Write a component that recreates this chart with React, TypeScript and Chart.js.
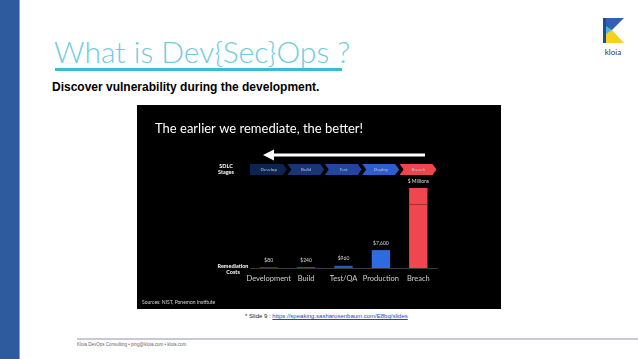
import React, { useEffect, useRef } from "react";
import { Chart, registerables } from "chart.js";

Chart.register(...registerables);

const categories = ["Development", "Build", "Test/QA", "Production", "Breach"];
const stages = ["Develop", "Build", "Test", "Deploy", "Breach"];
const costValues = [80, 240, 960, 7600, 34000];
const costLabels = ["$80", "$240", "$960", "$7,600", "$ Millions"];
const barColors = ["#1d3a7e", "#2549a6", "#2b57c4", "#2f6be0", "#f0464f"];
const stageColors = ["#0e2450", "#1a3576", "#2245a0", "#2c5ecf", "#ef454d"];

const overlayPlugin = {
  id: "overlay",
  beforeDatasetsDraw(chart: any) {
    const { ctx } = chart;
    const x = chart.scales.x;
    ctx.save();
    // title
    ctx.fillStyle = "#ffffff";
    ctx.font = "13px Lato";
    ctx.textBaseline = "middle";
    ctx.textAlign = "left";
    ctx.fillText("The earlier we remediate, the better!", 18, 24);
    // arrow
    ctx.fillStyle = "#ffffff";
    ctx.fillRect(134, 48.5, 154, 3);
    ctx.beginPath();
    ctx.moveTo(126, 50);
    ctx.lineTo(137, 44.5);
    ctx.lineTo(137, 55.5);
    ctx.closePath();
    ctx.fill();
    // left labels
    ctx.font = "bold 5.5px Lato";
    ctx.textAlign = "center";
    ctx.fillText("SDLC", 89, 61.5);
    ctx.fillText("Stages", 89, 67.5);
    ctx.fillText("Remediation", 96, 161);
    ctx.fillText("Costs", 96, 167);
    // chevrons
    const n = categories.length;
    const w = (x.right - x.left) / n;
    const top = 59, bot = 70, mid = 64.5, tip = 4;
    for (let i = 0; i < n; i++) {
      const c = x.getPixelForValue(i);
      const l = c - w / 2;
      const r = c + w / 2 - 0.5;
      ctx.fillStyle = stageColors[i];
      ctx.beginPath();
      ctx.moveTo(l, top);
      ctx.lineTo(r - tip, top);
      ctx.lineTo(r, mid);
      ctx.lineTo(r - tip, bot);
      ctx.lineTo(l, bot);
      if (i > 0) ctx.lineTo(l + tip, mid);
      ctx.closePath();
      ctx.fill();
      ctx.fillStyle = "#b8c4e0";
      ctx.font = "4.5px Lato";
      ctx.fillText(stages[i], c, mid);
    }
    // sources
    ctx.textAlign = "left";
    ctx.fillStyle = "#d8d8d8";
    ctx.font = "5px Lato";
    ctx.fillText("Sources: NIST, Ponemon Institute", 5, 197);
    ctx.restore();
  },
  afterDatasetsDraw(chart: any) {
    const { ctx } = chart;
    const meta = chart.getDatasetMeta(0);
    const y = chart.scales.y;
    ctx.save();
    ctx.fillStyle = "#dddddd";
    ctx.font = "5px Lato";
    ctx.textAlign = "center";
    ctx.textBaseline = "middle";
    meta.data.forEach((bar: any, i: number) => {
      ctx.fillText(costLabels[i], bar.x, bar.y - 7);
    });
    // break line on the breach bar
    const b = meta.data[4];
    const by = y.getPixelForValue(27000);
    ctx.strokeStyle = "#a82f36";
    ctx.lineWidth = 1;
    ctx.beginPath();
    ctx.moveTo(b.x - b.width / 2, by);
    ctx.lineTo(b.x + b.width / 2, by);
    ctx.stroke();
    ctx.restore();
  },
};

function SlideChart() {
  const ref = useRef<HTMLCanvasElement>(null);
  useEffect(() => {
    const chart = new Chart(ref.current!, {
      type: "bar",
      data: {
        labels: categories,
        datasets: [
          {
            data: costValues,
            backgroundColor: barColors,
            barPercentage: 0.49,
            categoryPercentage: 1,
            minBarLength: 1,
          },
        ],
      },
      options: {
        animation: false,
        responsive: false,
        maintainAspectRatio: false,
        layout: { padding: { left: 113, right: 64, top: 83, bottom: 20 } },
        plugins: { legend: { display: false }, tooltip: { enabled: false } },
        scales: {
          x: {
            grid: { display: false, drawTicks: false },
            border: { display: true, color: "#3a3a3a" },
            ticks: {
              color: "#cfcfcf",
              font: { family: "Lato", size: 7.5 },
              padding: 6,
              maxRotation: 0,
              minRotation: 0,
              autoSkip: false,
            },
          },
          y: { display: false, min: 0, max: 34000 },
        },
      },
      plugins: [overlayPlugin],
    });
    return () => chart.destroy();
  }, []);
  return (
    <canvas
      ref={ref}
      width={364}
      height={204}
      style={{ position: "absolute", left: 137, top: 105, width: 364, height: 204, background: "#000" }}
    />
  );
}

export default function App() {
  useEffect(() => {
    document.body.style.margin = "0";
  }, []);
  return (
    <div style={{ position: "absolute", left: 0, top: 0, width: 638, height: 359, background: "#fff", overflow: "hidden", fontFamily: "'Liberation Sans', Arial, sans-serif" }}>
      <div style={{ position: "absolute", left: 0, top: 0, width: 19, height: 359, background: "#2e5a9e" }} />
      <div style={{ position: "absolute", left: 19, top: 0, width: 1, height: 359, background: "#7f9ccc" }} />
      <div style={{ position: "absolute", left: 54, top: 34, fontFamily: "Lato", fontWeight: 300, fontSize: 30, lineHeight: "34px", color: "#72cbe0", whiteSpace: "nowrap" }}>
        What is Dev{"{"}Sec{"}"}Ops ?
      </div>
      <div style={{ position: "absolute", left: 55, top: 68, width: 287, height: 3, background: "#3cbad6" }} />
      <div style={{ position: "absolute", left: 52, top: 80, fontWeight: "bold", fontSize: 12, lineHeight: "14px", color: "#000", whiteSpace: "nowrap" }}>
        Discover vulnerability during the development.
      </div>
      <svg style={{ position: "absolute", left: 600, top: 18 }} width={26} height={40} viewBox="0 0 26 40">
        <polygon points="3,0 24,0 12,12 3,12" fill="#2f62b0" />
        <polygon points="3,12 12,12 24,25 3,25" fill="#f6d21c" />
        <polygon points="3,6 12,12 3,18" fill="#4fb4e0" />
        <polygon points="3,0 6,0 6,25 3,25" fill="#1d4b98" />
        <text x="13" y="37" fontSize="8" fill="#333" textAnchor="middle" fontFamily="Lato">kloia</text>
      </svg>
      <SlideChart />
      <div style={{ position: "absolute", left: 245, top: 312, fontSize: 6, lineHeight: "8px", color: "#222", whiteSpace: "nowrap" }}>
        * Slide 9 : <span style={{ color: "#2a3fd0", textDecoration: "underline" }}>https://speaking.sasharosenbaum.com/E8bq/slides</span>
      </div>
      <div style={{ position: "absolute", left: 77, top: 338, width: 561, height: 1.5, background: "#c9c8d8" }} />
      <div style={{ position: "absolute", left: 77, top: 342, fontSize: 4.5, lineHeight: "6px", color: "#666", whiteSpace: "nowrap" }}>
        Kloia DevOps Consulting • ping@kloia.com • kloia.com
      </div>
    </div>
  );
}
